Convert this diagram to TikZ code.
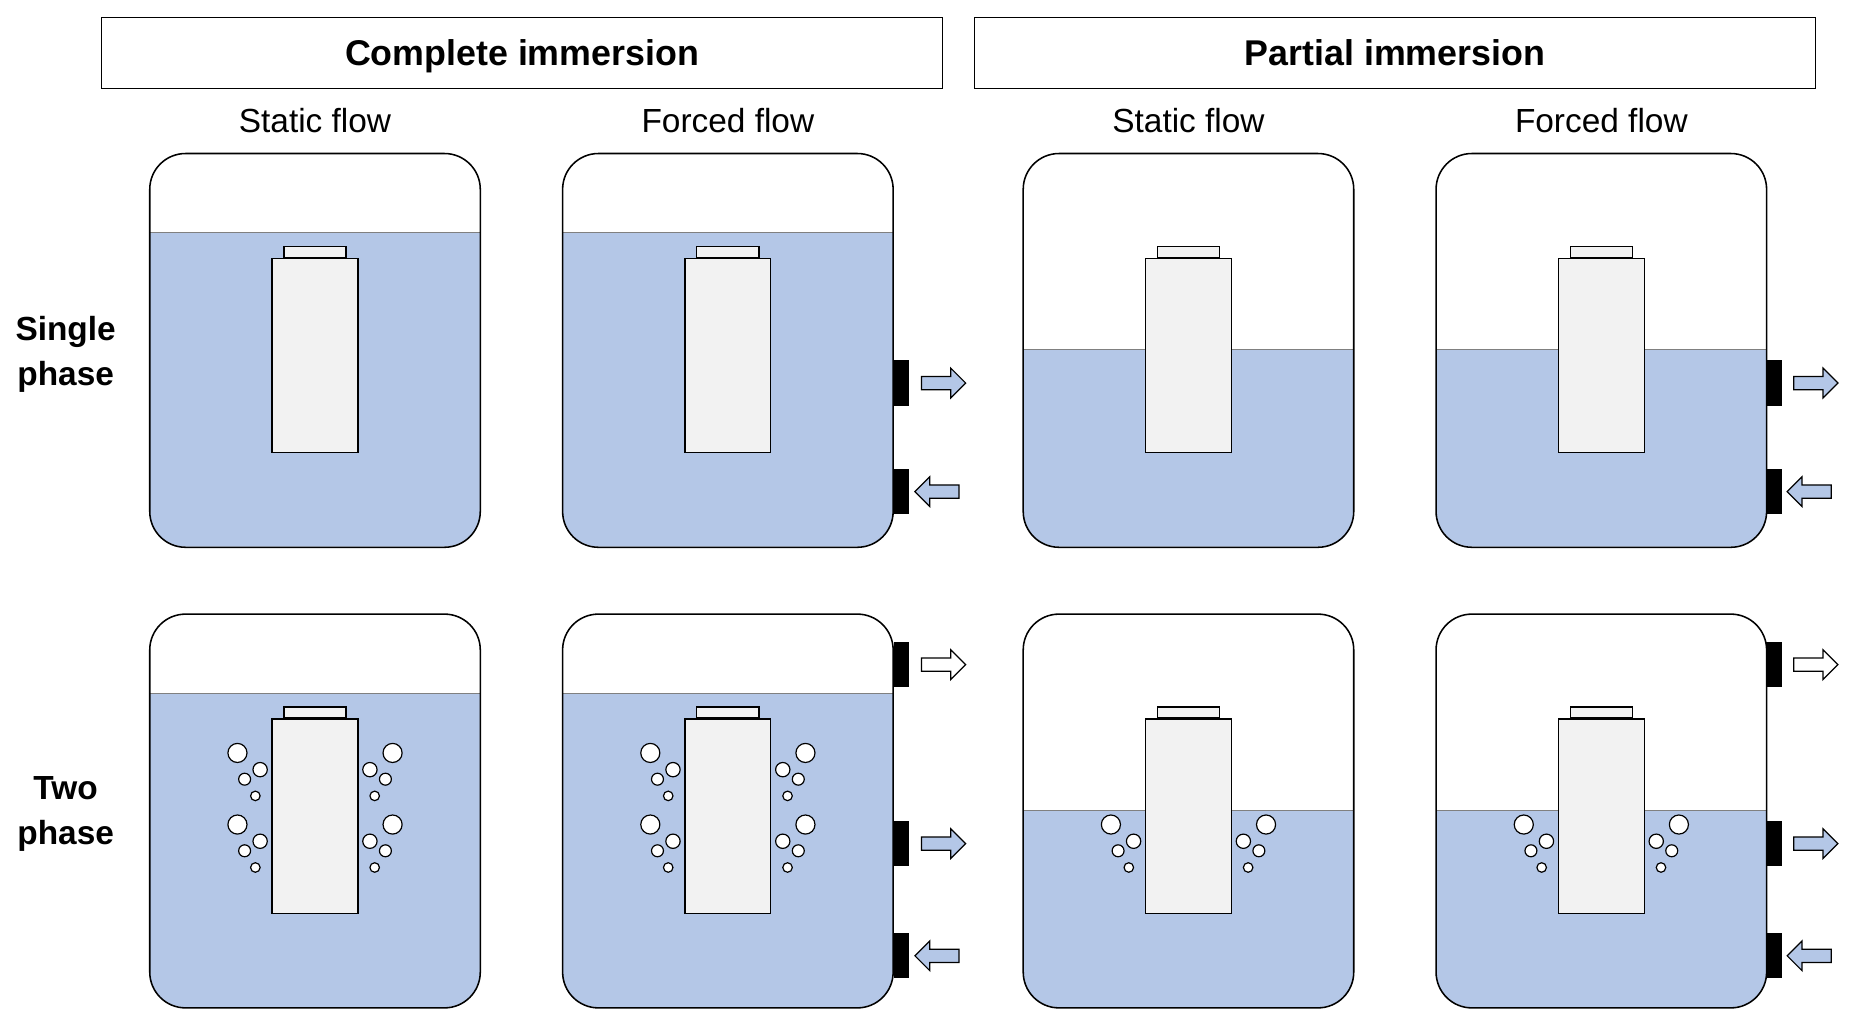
\documentclass[tikz,border=0pt]{standalone}
\usepackage{fontspec}
\setmainfont{Liberation Sans}
\usetikzlibrary{shapes.arrows}
\definecolor{liq}{HTML}{B4C7E7}
\definecolor{bat}{HTML}{F2F2F2}
\tikzset{
 tank/.style={draw=black,line width=1.3pt,rounded corners=30pt},
 batt/.style={draw=black,line width=1pt,fill=bat},
 port/.style={fill=black,draw=none},
 bub/.style={draw=black,line width=1pt,fill=white},
 barr/.style={single arrow,draw=black,line width=1pt,minimum height=37pt,minimum width=25pt,single arrow head extend=5pt,inner sep=3.5pt},
 hdr/.style={draw=black,line width=1pt,minimum width=705pt,minimum height=59pt},
 htxt/.style={anchor=base,inner sep=0,font=\bfseries\fontsize{30}{34}\selectfont},
 lab/.style={font=\fontsize{28}{32}\selectfont},
 rlab/.style={font=\bfseries\fontsize{28}{38}\selectfont,align=center}
}
\newcommand{\mytank}[4]{%
 \begin{scope}
 \clip[rounded corners=30pt] (#2-138.5,-#3) rectangle (#2+138.5,-#3-330);
 \fill[liq] (#2-140,-#3-#4) rectangle (#2+140,-#3-335);
 \draw[gray,line width=0.8pt] (#2-140,-#3-#4) -- (#2+140,-#3-#4);
 \end{scope}
 \node[tank,minimum width=277pt,minimum height=330pt,inner sep=0,anchor=north] (#1) at (#2,-#3) {};
 \node[batt,minimum width=72pt,minimum height=163pt,inner sep=0,anchor=north] (#1b) at (#2,-#3-88) {};
 \node[batt,minimum width=52pt,minimum height=9pt,inner sep=0,anchor=south] (#1c) at (#1b.north) {};
}
\newcommand{\mybub}[3]{%
 \draw[bub] (#1+#3*65,-#2) circle (8pt);
 \draw[bub] (#1+#3*46,-#2-14) circle (6pt);
 \draw[bub] (#1+#3*59,-#2-22) circle (5pt);
 \draw[bub] (#1+#3*50,-#2-36) circle (4pt);
}
\newcommand{\myport}[4]{%
 \fill[port] (#1,-#2-19) rectangle (#1+13,-#2+19);
 \node[barr,fill=#4,shape border rotate=#3] at (#1+39,-#2) {};
}
\begin{document}
\begin{tikzpicture}[x=1pt,y=1pt]
\useasboundingbox (0,0) rectangle (1568,-854);
\node[hdr] (h1) at (437.5,-44.5) {};
\node[hdr] (h2) at (1169,-44.5) {};
\node[htxt] (h1t) at (437.5,-55) {Complete immersion};
\node[htxt] (h2t) at (1169,-55) {Partial immersion};
\node[lab] (ta) at (264,-101) {Static flow};
\node[lab] (tb) at (610,-101) {Forced flow};
\node[lab] (tc) at (996,-101) {Static flow};
\node[lab] (td) at (1342,-101) {Forced flow};
\node[rlab] (r1) at (55,-297) {Single\\phase};
\node[rlab] (r2) at (55,-682) {Two\\phase};
% row 1
\mytank{a1}{264}{128}{67}
\mytank{b1}{610}{128}{67}
\mytank{c1}{996}{128}{165}
\mytank{d1}{1342}{128}{165}
% row 2
\mytank{a2}{264}{514}{67}
\mytank{b2}{610}{514}{67}
\mytank{c2}{996}{514}{165}
\mytank{d2}{1342}{514}{165}
% bubbles
\foreach \c in {264,610}{
 \mybub{\c}{631}{-1}\mybub{\c}{631}{1}
 \mybub{\c}{691}{-1}\mybub{\c}{691}{1}}
\foreach \c in {996,1342}{
 \mybub{\c}{691}{-1}\mybub{\c}{691}{1}}
% ports
\foreach \x in {749,1480}{
 \myport{\x}{321}{0}{liq}
 \myport{\x}{412}{180}{liq}
 \myport{\x}{557}{0}{white}
 \myport{\x}{707}{0}{liq}
 \myport{\x}{801}{180}{liq}}
\end{tikzpicture}
\end{document}
